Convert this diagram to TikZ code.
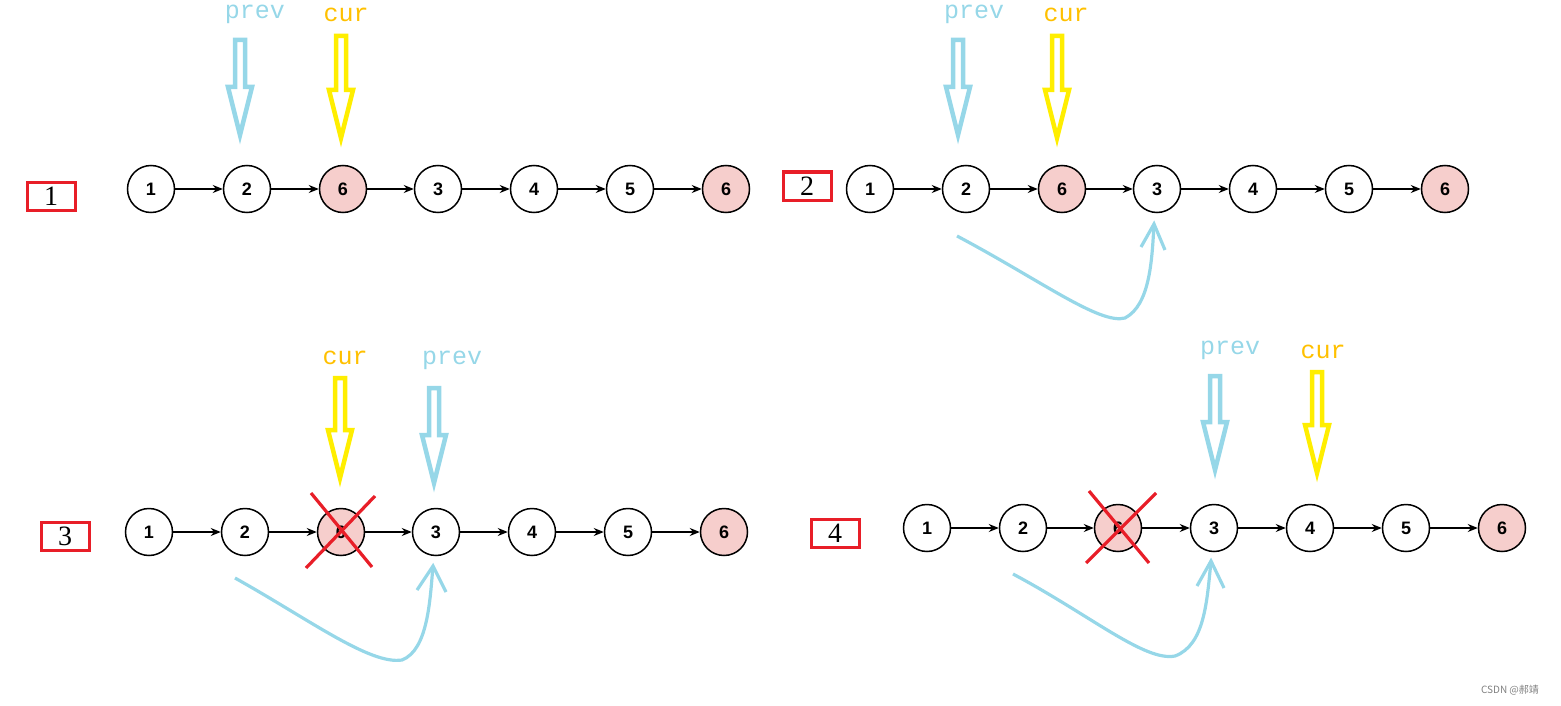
\documentclass[tikz,border=0pt]{standalone}
\usepackage{fontspec}
\usetikzlibrary{arrows.meta}
\setmainfont{Liberation Sans}
\newfontfamily\cjk{Noto Sans CJK SC}
\newfontfamily\serifx{Liberation Serif}
\newfontfamily\monox{Liberation Mono}
\definecolor{lb}{RGB}{150,215,232}
\definecolor{yl}{RGB}{255,238,0}
\definecolor{gd}{RGB}{255,192,0}
\definecolor{pk}{RGB}{246,206,204}
\definecolor{rd}{RGB}{232,30,40}
\tikzset{
 ln/.style={circle,draw,line width=1.5pt,minimum size=47pt,inner sep=0pt,font=\bfseries\fontsize{18}{18}\selectfont,fill=white},
 pn/.style={ln,fill=pk},
 ed/.style={-{Stealth[length=10pt,width=8pt]},line width=1.2pt},
 lab/.style={font=\monox\fontsize{25}{25}\selectfont},
 bx/.style={draw=rd,line width=3pt,minimum width=48pt,minimum height=28pt,inner sep=0pt,font=\serifx\fontsize{28}{28}\selectfont},
 crs/.style={draw=rd,line width=3.2pt},
 crv/.style={draw=lb,line width=3.2pt},
}
\newcommand{\barrow}[4]{% x, ytop, ybot, color
 \draw[#4,line width=4.5pt,line join=miter]
 (#1-5,#2)--(#1+5,#2)--(#1+5,#3-48)--(#1+12,#3-48)--(#1,#3)--(#1-12,#3-48)--(#1-5,#3-48)--cycle;}
\begin{document}
\begin{tikzpicture}[x=1pt,y=-1pt]
\useasboundingbox (0,0) rectangle (1561,706);
% panel 1
\node[bx] (b1) at (51,196) {1};
\foreach \n/\x/\s/\t in {a1/151/ln/1,a2/247/ln/2,a3/343/pn/6,a4/438/ln/3,a5/534/ln/4,a6/630/ln/5,a7/726/pn/6}
 \node[\s] (\n) at (\x,189) {\t};
\foreach \a/\b in {a1/a2,a2/a3,a3/a4,a4/a5,a5/a6,a6/a7} \draw[ed] (\a)--(\b);
\node[lab,text=lb] (p1) at (255,14) {prev};
\node[lab,text=gd] (c1) at (346,15) {cur};
\barrow{240}{40}{135}{lb}
\barrow{341}{36}{138}{yl}
% panel 2
\node[bx] (b2) at (807,186) {2};
\foreach \n/\x/\s/\t in {d1/870/ln/1,d2/966/ln/2,d3/1062/pn/6,d4/1157/ln/3,d5/1253/ln/4,d6/1349/ln/5,d7/1445/pn/6}
 \node[\s] (\n) at (\x,189) {\t};
\foreach \a/\b in {d1/d2,d2/d3,d3/d4,d4/d5,d5/d6,d6/d7} \draw[ed] (\a)--(\b);
\node[lab,text=lb] (p2) at (974,14) {prev};
\node[lab,text=gd] (c2) at (1066,15) {cur};
\barrow{958}{40}{135}{lb}
\barrow{1057}{36}{138}{yl}
\coordinate (s2) at (957,236);
\coordinate (t2) at (1154,224);
\draw[crv] (s2) .. controls (1040,280) and (1100,325) .. (1125,318) .. controls (1150,305) and (1152,260) .. (t2);
\draw[crv] (1141,247)--(t2)--(1165,250);
% panel 3
\node[bx] (b3) at (65,536) {3};
\foreach \n/\x/\s/\t in {e1/149/ln/1,e2/245/ln/2,e3/341/pn/6,e4/436/ln/3,e5/532/ln/4,e6/628/ln/5,e7/724/pn/6}
 \node[\s] (\n) at (\x,532) {\t};
\foreach \a/\b in {e1/e2,e2/e3,e3/e4,e4/e5,e5/e6,e6/e7} \draw[ed] (\a)--(\b);
\draw[crs] (311,493)--(372,567); \draw[crs] (375,496)--(306,568);
\node[lab,text=gd] (c3) at (345,358) {cur};
\node[lab,text=lb] (p3) at (452,360) {prev};
\barrow{340}{378}{478}{yl}
\barrow{434}{388}{483}{lb}
\coordinate (s3) at (235,578);
\coordinate (t3) at (433,566);
\draw[crv] (s3) .. controls (310,620) and (370,665) .. (402,660) .. controls (428,650) and (430,600) .. (t3);
\draw[crv] (417,590)--(t3)--(446,592);
% panel 4
\node[bx] (b4) at (835,533) {4};
\foreach \n/\x/\s/\t in {f1/927/ln/1,f2/1023/ln/2,f3/1118/pn/6,f4/1214/ln/3,f5/1310/ln/4,f6/1406/ln/5,f7/1502/pn/6}
 \node[\s] (\n) at (\x,528) {\t};
\foreach \a/\b in {f1/f2,f2/f3,f3/f4,f4/f5,f5/f6,f6/f7} \draw[ed] (\a)--(\b);
\draw[crs] (1089,491)--(1149,563); \draw[crs] (1156,493)--(1086,563);
\node[lab,text=lb] (p4) at (1230,350) {prev};
\node[lab,text=gd] (c4) at (1323,352) {cur};
\barrow{1215}{376}{470}{lb}
\barrow{1317}{372}{473}{yl}
\coordinate (s4) at (1013,574);
\coordinate (t4) at (1211,561);
\draw[crv] (s4) .. controls (1090,615) and (1145,662) .. (1175,656) .. controls (1205,645) and (1207,600) .. (t4);
\draw[crv] (1197,586)--(t4)--(1224,588);
\node[font=\cjk\fontsize{10}{10}\selectfont,text=gray] (w) at (1510,690) {CSDN @郝靖};
\end{tikzpicture}
\end{document}
